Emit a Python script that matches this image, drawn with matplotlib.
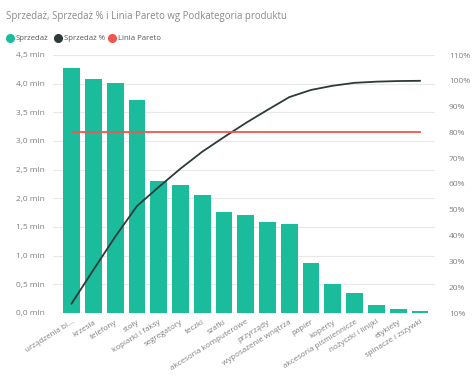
import matplotlib
matplotlib.use("Agg")
import matplotlib.pyplot as plt
from matplotlib.lines import Line2D
import numpy as np

categories = ["urządzenia bi...", "krzesła", "telefony", "stoły", "kopiarki i faksy",
              "segregatory", "teczki", "szafki", "akcesoria komputerowe", "przyrządy",
              "wyposażenie wnętrza", "papier", "koperty", "akcesoria piśmiennicze",
              "nożyczki i linijki", "etykiety", "spinacze i zszywki"]
sales_mln = [4.27, 4.08, 4.01, 3.72, 2.31, 2.23, 2.05, 1.77, 1.71, 1.59,
             1.55, 0.87, 0.51, 0.35, 0.14, 0.075, 0.03]
pareto_level = 80
left_ticks = [0, 0.5, 1.0, 1.5, 2.0, 2.5, 3.0, 3.5, 4.0, 4.5]
right_ticks = [10, 20, 30, 40, 50, 60, 70, 80, 90, 100, 110]

plt.rcParams['font.family'] = ['Open Sans', 'DejaVu Sans']

W, H = 474, 385
fig = plt.figure(figsize=(W / 100, H / 100), dpi=100)

teal = "#1ABC9C"
dark = "#2D3A3A"
red = "#F0554E"
gray = "#808080"

x0, x1 = 53, 435
ytop, ybot = 55, 313
ax = fig.add_axes([x0 / W, (H - ybot) / H, (x1 - x0) / W, (ybot - ytop) / H])
x = np.arange(len(categories))
ax.bar(x, sales_mln, width=0.77, color=teal, zorder=2)
ax.set_xlim(-0.854, 16.69)
ax.set_ylim(0, 4.5)
ax.set_yticks(left_ticks)
ax.set_yticklabels([f"{v:.1f}".replace(".", ",") + " mln" for v in left_ticks])
ax.set_xticks(x)
ax.set_xticklabels(categories, rotation=32, ha="right", rotation_mode="anchor")
ax.tick_params(axis="y", length=0, labelsize=6, labelcolor=gray, pad=6)
ax.tick_params(axis="x", length=0, labelsize=5.8, labelcolor=gray, pad=4)
ax.grid(axis="y", color="#E8E8E8", linewidth=0.8, zorder=0)
for s in ax.spines.values():
    s.set_visible(False)

ax2 = ax.twinx()
cum = np.cumsum(sales_mln) / np.sum(sales_mln) * 100
ax2.plot(x, cum, color=dark, linewidth=1.3, zorder=3)
ax2.plot(x, [pareto_level] * len(x), color=red, linewidth=1.3, zorder=3)
ax2.set_ylim(10, 110)
ax2.set_yticks(right_ticks)
ax2.set_yticklabels([f"{v}%" for v in right_ticks])
ax2.tick_params(axis="y", length=0, labelsize=6, labelcolor=gray, pad=10)
for s in ax2.spines.values():
    s.set_visible(False)

fig.text(6 / W, 1 - 17 / H, "Sprzedaż, Sprzedaż % i Linia Pareto wg Podkategoria produktu",
         fontsize=6.9, color="#8A8A8A", va="center", ha="left")

ly = 1 - 38 / H
items = [(10, teal, "Sprzedaż"), (58, dark, "Sprzedaż %"), (112, red, "Linia Pareto")]
for px, c, lab in items:
    fig.add_artist(Line2D([px / W], [ly], marker="o", markersize=5.5, color=c,
                          linestyle="none", transform=fig.transFigure))
    fig.text((px + 5.5) / W, ly, lab, fontsize=5.6, color="#555555", va="center", ha="left")

fig.savefig("out.png", dpi=100)
